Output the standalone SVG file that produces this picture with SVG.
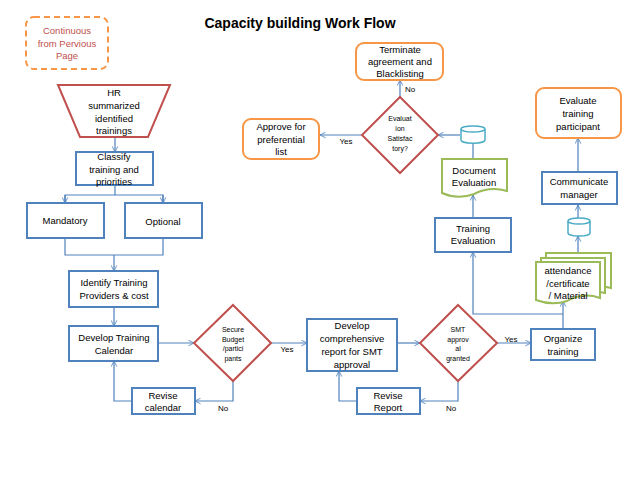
<svg xmlns="http://www.w3.org/2000/svg" width="638" height="479" viewBox="0 0 638 479">
<defs>
<marker id="a" viewBox="0 0 10 10" refX="9" refY="5" markerWidth="7" markerHeight="7" orient="auto" markerUnits="userSpaceOnUse"><path d="M1,1 L9,5 L1,9" fill="none" stroke="#4f81bd" stroke-width="1.2"/></marker>
</defs>
<style>
text{font-family:"Liberation Sans",Arial,sans-serif;font-size:9.5px;fill:#000;text-anchor:middle}
.s{font-size:7px}
.l{font-size:8px}
.b{fill:#fff;stroke:#4f81bd;stroke-width:2}
.o{fill:#fff;stroke:#f79646;stroke-width:2}
.r{fill:#fff;stroke:#c0504d;stroke-width:2}
.g{fill:#fff;stroke:#9bbb59;stroke-width:2}
.c{fill:#fff;stroke:#4bacc6;stroke-width:1.5}
#conn path{fill:none;stroke:#4f81bd;stroke-width:1.2}
</style>
<rect width="638" height="479" fill="#fff"/>
<text x="300" y="28" style="font-size:14px;font-weight:bold">Capacity building Work Flow</text>
<g id="conn">
<path d="M115,137V152" marker-end="url(#a)"/>
<path d="M115,185V195H65V203M115,195H163V203"/>
<path d="M65,195V203" marker-end="url(#a)"/><path d="M163,195V203" marker-end="url(#a)"/>
<path d="M65,238V255H163V238M114,255V271" marker-end="url(#a)"/>
<path d="M114,307V326" marker-end="url(#a)"/>
<path d="M158,343H194" marker-end="url(#a)"/>
<path d="M271,343H307" marker-end="url(#a)"/>
<path d="M233,381V401H195" marker-end="url(#a)"/>
<path d="M132,401H114V361" marker-end="url(#a)"/>
<path d="M397,343H420" marker-end="url(#a)"/>
<path d="M497,343H531" marker-end="url(#a)"/>
<path d="M458,381V401H420" marker-end="url(#a)"/>
<path d="M357,401H339V371" marker-end="url(#a)"/>
<path d="M563,329V301" marker-end="url(#a)"/>
<path d="M563,314H473V252" marker-end="url(#a)"/>
<path d="M473,218V195" marker-end="url(#a)"/>
<path d="M473,159V143"/>
<path d="M460,135H438" marker-end="url(#a)"/>
<path d="M400,97V80" marker-end="url(#a)"/>
<path d="M362,135H320" marker-end="url(#a)"/>
<path d="M578,253V236" marker-end="url(#a)"/>
<path d="M578,218V205" marker-end="url(#a)"/>
<path d="M578,172V138" marker-end="url(#a)"/>
</g>
<g id="continuous"><rect x="26" y="17" width="82" height="52" rx="8" fill="#fff" stroke="#f79646" stroke-width="2" stroke-dasharray="6,4"/><text x="67" y="34" fill="#c0504d" style="fill:#c0504d">Continuous</text><text x="67" y="47" style="fill:#c0504d">from Pervious</text><text x="67" y="59" style="fill:#c0504d">Page</text></g>
<g id="hr"><path class="r" d="M58,85H170L148,137H80Z"/><text x="114" y="96">HR</text><text x="114" y="109">summarized</text><text x="114" y="122">identified</text><text x="114" y="134">trainings</text></g>
<g id="classify"><rect class="b" x="76" y="152" width="77" height="33"/><text x="114" y="160">Classify</text><text x="114" y="173">training and</text><text x="114" y="185">priorities</text></g>
<g id="mandatory"><rect class="b" x="27" y="203" width="77" height="35"/><text x="65" y="224">Mandatory</text></g>
<g id="optional"><rect class="b" x="125" y="203" width="77" height="35"/><text x="163" y="225">Optional</text></g>
<g id="identify"><rect class="b" x="69" y="271" width="89" height="36"/><text x="114" y="286">Identify Training</text><text x="114" y="299">Providers &amp; cost</text></g>
<g id="calendar"><rect class="b" x="69" y="326" width="89" height="35"/><text x="114" y="341">Develop Training</text><text x="114" y="354">Calendar</text></g>
<g id="secure"><path class="r" d="M233,305L271,343L233,381L194,343Z"/><text class="s" x="233" y="332">Secure</text><text class="s" x="233" y="342">Budget</text><text class="s" x="233" y="351">/partici</text><text class="s" x="233" y="361">pants</text></g>
<text class="l" x="287" y="352">Yes</text><text class="l" x="223" y="411">No</text>
<g id="revcal"><rect class="b" x="132" y="388" width="63" height="26"/><text x="163" y="399">Revise</text><text x="163" y="411">calendar</text></g>
<g id="report"><rect class="b" x="307" y="319" width="90" height="52"/><text x="352" y="329">Develop</text><text x="352" y="342">comprehensive</text><text x="352" y="355">report  for SMT</text><text x="352" y="368">approval</text></g>
<g id="smt"><path class="r" d="M458,305L497,343L458,381L420,343Z"/><text class="s" x="458" y="332">SMT</text><text class="s" x="458" y="342">approv</text><text class="s" x="458" y="351">al</text><text class="s" x="458" y="361">granted</text></g>
<text class="l" x="511" y="342">Yes</text><text class="l" x="451" y="411">No</text>
<g id="revrep"><rect class="b" x="357" y="388" width="63" height="26"/><text x="388" y="399">Revise</text><text x="388" y="411">Report</text></g>
<g id="organize"><rect class="b" x="531" y="329" width="64" height="31"/><text x="563" y="342">Organize</text><text x="563" y="355">training</text></g>
<g id="attendance"><path class="g" d="M546,253H611V288Q594,283 578,292H546Z"/><path class="g" d="M541,258H605V293Q588,288 572,297H541Z"/><path class="g" d="M536,262H600V298Q583,292 567,301Q552,306 536,300Z"/><text x="568" y="274">attendance</text><text x="568" y="287">/certificate</text><text x="568" y="299">/ Material</text></g>
<g id="cyl2"><path class="c" d="M568,221V233A11,3 0 0 0 590,233V221"/><ellipse class="c" cx="579" cy="221" rx="11" ry="3"/></g>
<g id="communicate"><rect class="b" x="542" y="172" width="75" height="32"/><text x="579" y="185">Communicate</text><text x="579" y="198">manager</text></g>
<g id="evalpart"><rect class="o" x="536" y="88" width="85" height="50" rx="8"/><text x="578" y="104">Evaluate</text><text x="578" y="117">training</text><text x="578" y="130">participant</text></g>
<g id="traineval"><rect class="b" x="435" y="218" width="76" height="34"/><text x="473" y="232">Training</text><text x="473" y="244">Evaluation</text></g>
<g id="doceval"><path class="g" d="M442,159H507V191Q490,186 474,194Q458,200 442,193Z"/><text x="474" y="174">Document</text><text x="474" y="186">Evaluation</text></g>
<g id="cyl1"><path class="c" d="M461,129V140A11,3 0 0 0 485,140V129"/><ellipse class="c" cx="473" cy="129" rx="12" ry="3"/></g>
<g id="evaldia"><path class="r" d="M400,97L438,135L400,173L362,135Z"/><text class="s" x="400" y="121">Evaluat</text><text class="s" x="400" y="131">ion</text><text class="s" x="400" y="141">Satisfac</text><text class="s" x="400" y="151">tory?</text></g>
<text class="l" x="410" y="92">No</text><text class="l" x="346" y="144">Yes</text>
<g id="terminate"><rect class="o" x="356" y="43" width="87" height="37" rx="8"/><text x="400" y="53">Terminate</text><text x="400" y="65">agreement and</text><text x="400" y="77">Blacklisting</text></g>
<g id="approve"><rect class="o" x="243" y="119" width="76" height="40" rx="8"/><text x="281" y="130">Approve for</text><text x="281" y="143">preferential</text><text x="281" y="155">list</text></g>
</svg>
